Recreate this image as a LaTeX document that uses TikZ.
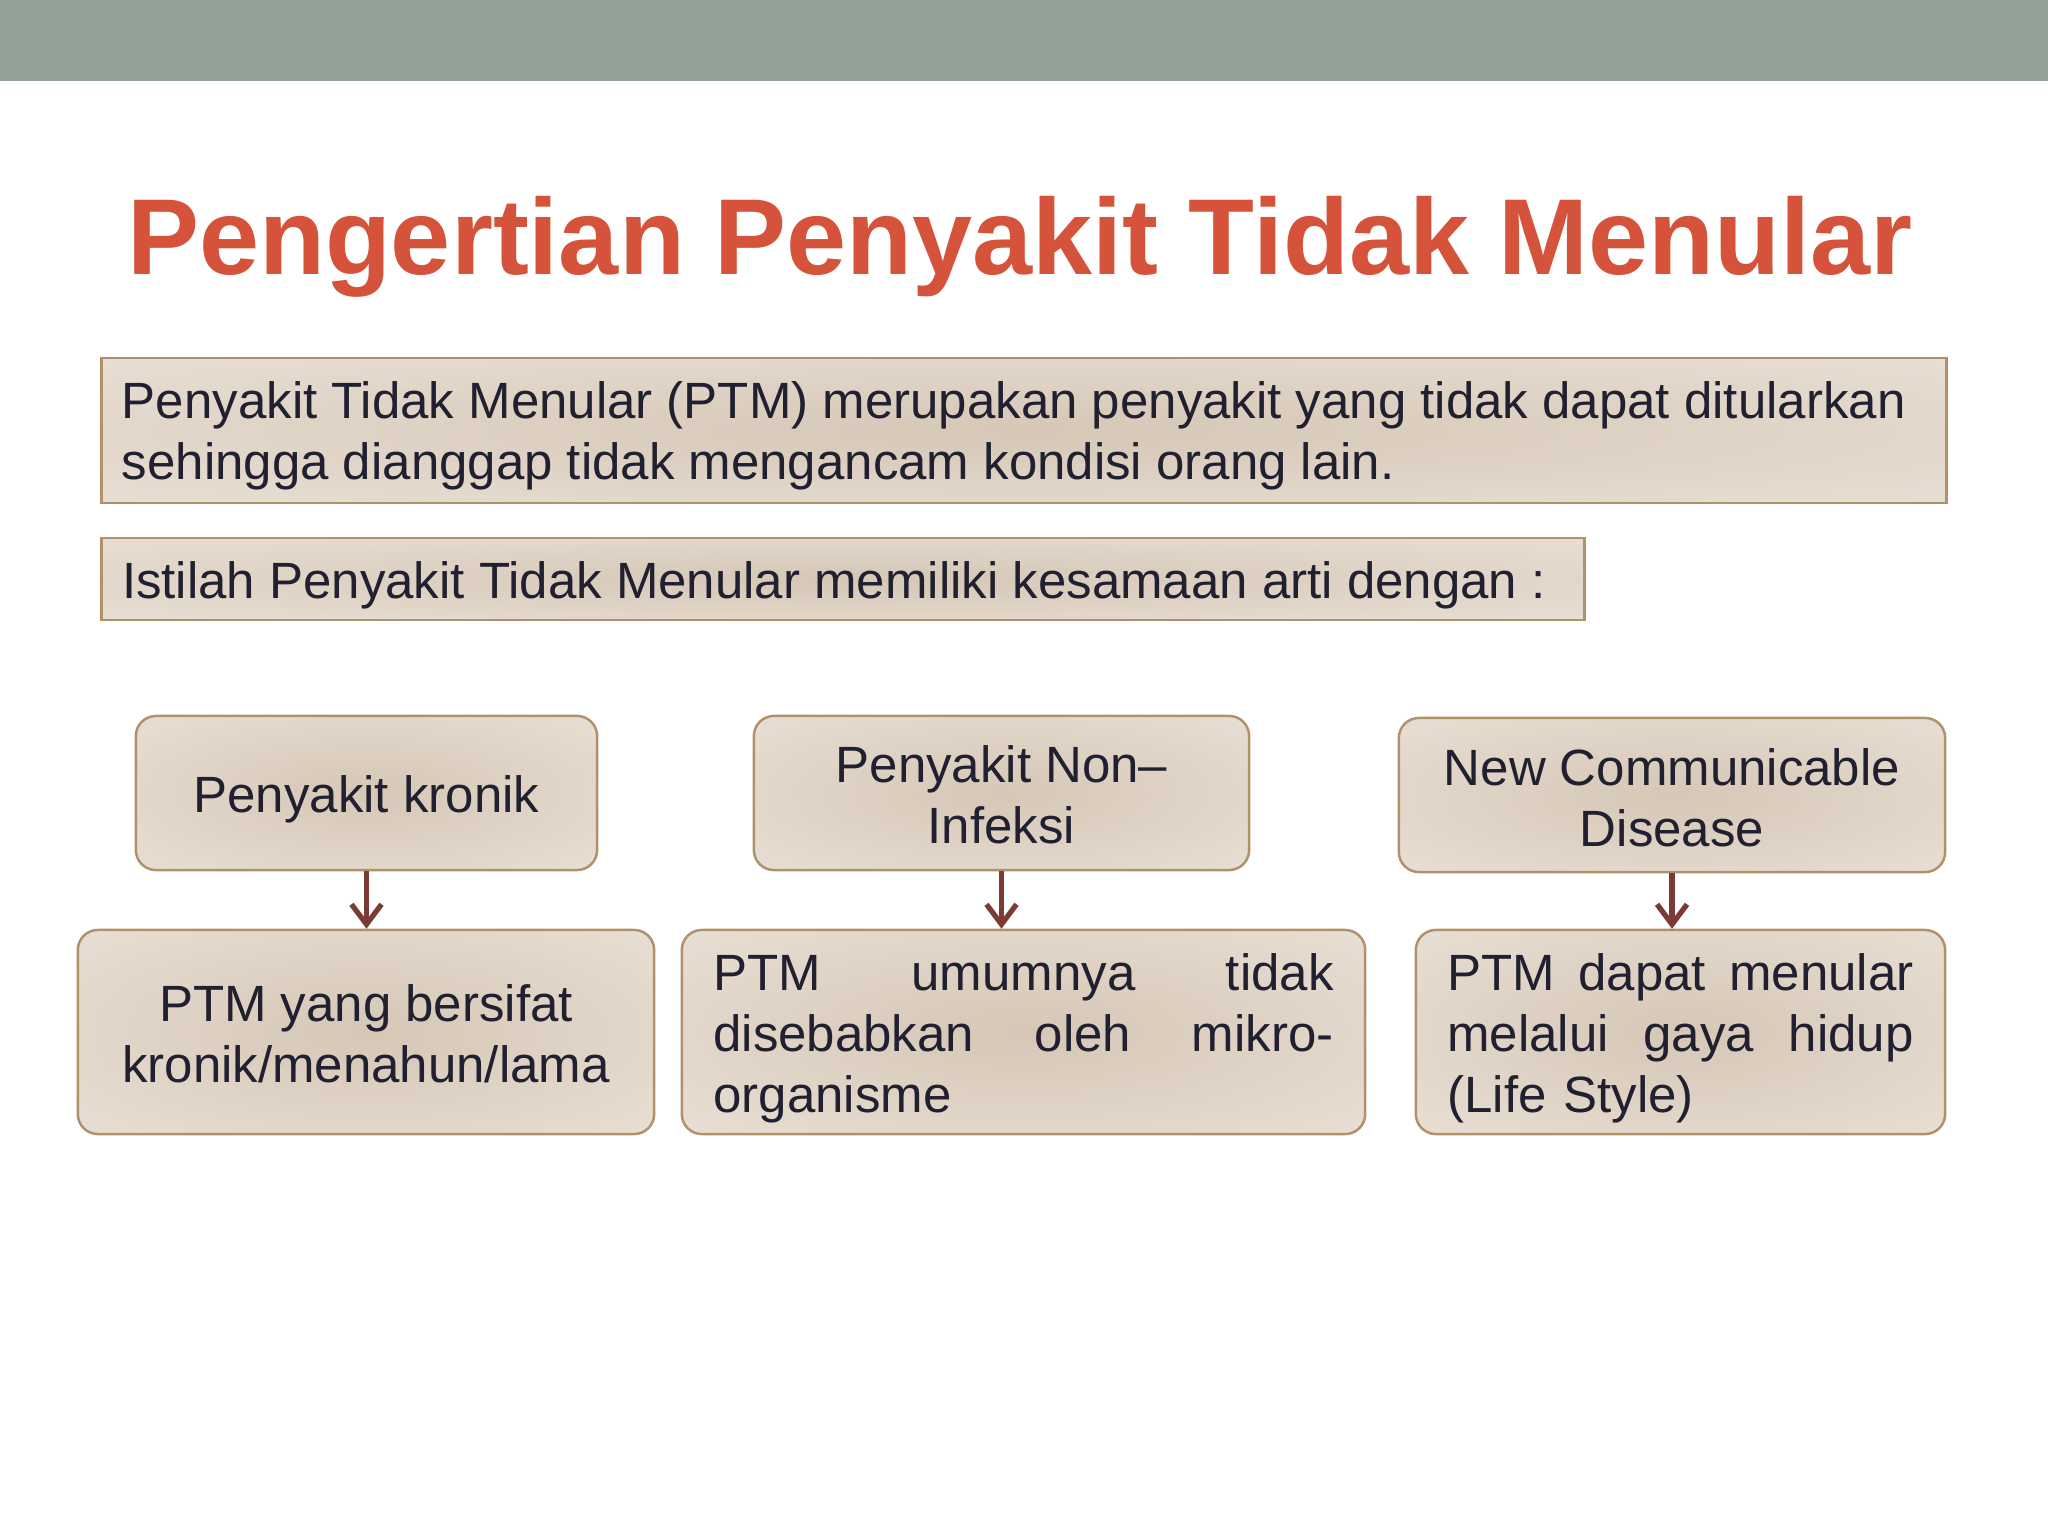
\documentclass[tikz,border=0pt]{standalone}
\usepackage{fontspec}
\setmainfont{Liberation Sans}
\usetikzlibrary{arrows.meta,shadings}
\definecolor{band}{HTML}{92A299}
\definecolor{titlec}{HTML}{D4533A}
\definecolor{txt}{HTML}{202030}
\definecolor{bxborder}{HTML}{B0916A}
\definecolor{bxin}{HTML}{D6C7B6}
\definecolor{bxout}{HTML}{EFE8E0}
\definecolor{arr}{HTML}{7B3A35}
\pgfdeclareradialshading{boxshade}{\pgfpoint{0bp}{0bp}}{color(0bp)=(bxin); color(50bp)=(bxout)}
\newcommand{\jline}[2]{\leavevmode\hbox to #1{#2}}
\tikzset{
  bodytext/.style={font=\fontsize{14.5}{17.4}\selectfont, text=txt, inner sep=0pt},
  plainbox/.style={draw=bxborder, line width=0.7pt, shading=boxshade},
  roundbox/.style={plainbox, rounded corners=0.2cm},
  link/.style={draw=arr, line width=1.5pt, -{Straight Barb[length=0.2cm,width=0.3cm]}},
}
\begin{document}
\begin{tikzpicture}[x=0.01cm,y=-0.01cm]
\useasboundingbox (0,0) rectangle (2048,1536);
\fill[white] (0,0) rectangle (2048,1536);
\fill[band] (0,0) rectangle (2048,81);

\node[font=\fontsize{30.7}{36}\selectfont\bfseries, text=titlec, anchor=base, inner sep=0pt] (title) at (1020,274) {Pengertian Penyakit Tidak Menular};

% boxes
\node[plainbox, minimum width=18.44cm, minimum height=1.45cm] (def) at (1024,430.5) {};
\node[plainbox, minimum width=14.82cm, minimum height=0.82cm] (ist) at (843,579) {};
\node[roundbox, minimum width=4.61cm, minimum height=1.54cm] (A) at (366.5,793) {};
\node[roundbox, minimum width=4.95cm, minimum height=1.54cm] (B) at (1001.5,793) {};
\node[roundbox, minimum width=5.46cm, minimum height=1.54cm] (C) at (1672,795) {};
\node[roundbox, minimum width=5.76cm, minimum height=2.04cm] (D) at (366,1032) {};
\node[roundbox, minimum width=6.83cm, minimum height=2.04cm] (E) at (1023.5,1032) {};
\node[roundbox, minimum width=5.29cm, minimum height=2.04cm] (F) at (1680.5,1032) {};

% texts
\node[bodytext, align=left, anchor=west] (deft) at ([xshift=0.21cm, yshift=-0.05cm]def.west)
  {Penyakit Tidak Menular (PTM) merupakan penyakit yang tidak dapat ditularkan\\sehingga dianggap tidak mengancam kondisi orang lain.};
\node[bodytext, align=left, anchor=west] (istt) at ([xshift=0.21cm, yshift=-0.06cm]ist.west)
  {Istilah Penyakit Tidak Menular memiliki kesamaan arti dengan :};
\node[bodytext, align=center] (At) at ([yshift=-0.065cm]A.center) {Penyakit kronik};
\node[bodytext, align=center] (Bt) at ([yshift=-0.02cm]B.center) {Penyakit Non–\\Infeksi};
\node[bodytext, align=center] (Ct) at ([yshift=-0.025cm]C.center) {New Communicable\\Disease};
\node[bodytext, align=center] (Dt) at ([yshift=-0.02cm]D.center) {PTM yang bersifat\\kronik/menahun/lama};
\node[bodytext, text width=6.2cm, align=left] (Et) at ([yshift=-0.065cm]E.center)
  {\jline{6.2cm}{PTM\hfill umumnya\hfill tidak}\\\jline{6.2cm}{disebabkan\hfill oleh\hfill mikro-}\\organisme};
\node[bodytext, text width=4.66cm, align=left] (Ft) at ([yshift=-0.065cm]F.center)
  {\jline{4.66cm}{PTM\hfill dapat\hfill menular}\\\jline{4.66cm}{melalui\hfill gaya\hfill hidup}\\(Life Style)};

% connectors
\draw[link] (A.south) -- (A.south |- D.north);
\draw[link] (B.south) -- (B.south |- E.north);
\draw[link] (C.south) -- (C.south |- F.north);
\end{tikzpicture}
\end{document}
